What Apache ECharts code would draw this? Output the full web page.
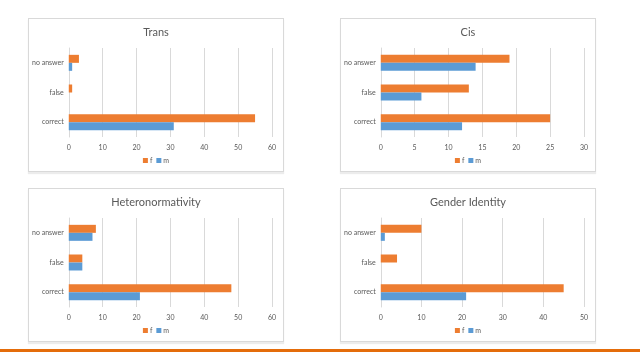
<!DOCTYPE html>
<html>
<head>
<meta charset="utf-8">
<script src="https://cdn.jsdelivr.net/npm/echarts@6/dist/echarts.min.js"></script>
<style>
  html, body { margin: 0; padding: 0; background: #fff; }
  body { width: 640px; height: 352px; position: relative; overflow: hidden; }
  .panel {
    position: absolute;
    width: 254px;
    height: 152px;
    border: 1px solid #d9d9d9;
    box-shadow: 0 2px 1px #ececec;
    background: #fff;
  }
  #bar { position: absolute; left: 0; top: 349px; width: 640px; height: 3px; background: #e46c0a; }
</style>
</head>
<body>
<div class="panel" id="trans" style="left:28px;top:18px"></div>
<div class="panel" id="cis" style="left:340px;top:18px"></div>
<div class="panel" id="hetero" style="left:28px;top:188px"></div>
<div class="panel" id="gender" style="left:340px;top:188px"></div>
<div id="bar"></div>
<script>
// 类别（自下而上）
const categories = ['correct', 'false', 'no answer']

// Trans
const transF = [55, 1, 3]
const transM = [31, 0, 1]
// Cis
const cisF = [25, 13, 19]
const cisM = [12, 6, 14]
// Heteronormativity
const heteroF = [48, 4, 8]
const heteroM = [21, 4, 7]
// Gender Identity
const genderF = [45, 4, 10]
const genderM = [21, 0, 1]

const colorF = '#ed7d31'
const colorM = '#5b9bd5'
const textColor = '#595959'
const font = 'Lato'

function drawChart(id, title, fData, mData, max, interval) {
  let myChart = echarts.init(document.getElementById(id))
  myChart.setOption({
    animation: false,
    textStyle: { fontFamily: font },
    title: {
      text: title,
      left: 'center',
      top: 3,
      textStyle: { fontSize: 11, fontWeight: 'normal', color: textColor, fontFamily: font }
    },
    legend: {
      data: ['f', 'm'],
      bottom: 2,
      left: 'center',
      itemWidth: 5,
      itemHeight: 5,
      itemGap: 4,
      icon: 'rect',
      textStyle: { fontSize: 7, color: textColor, padding: [0, 0, 0, -3] }
    },
    grid: { left: 39, right: 11, top: 29, bottom: 34 },
    xAxis: {
      type: 'value',
      min: 0,
      max: max,
      interval: interval,
      axisLine: { show: false },
      axisTick: { show: false },
      axisLabel: { fontSize: 7, color: textColor, margin: 7 },
      splitLine: { lineStyle: { color: '#d9d9d9' } }
    },
    yAxis: {
      type: 'category',
      data: categories,
      axisLine: { lineStyle: { color: '#d9d9d9' } },
      axisTick: { show: false },
      axisLabel: { fontSize: 7, color: textColor, margin: 5 }
    },
    series: [
      {
        name: 'f',
        type: 'bar',
        barWidth: 8,
        barGap: '0%',
        itemStyle: { color: colorF },
        data: fData
      },
      {
        name: 'm',
        type: 'bar',
        barWidth: 8,
        barGap: '0%',
        itemStyle: { color: colorM },
        data: mData
      }
    ]
  })
}

drawChart('trans', 'Trans', transF, transM, 60, 10)
drawChart('cis', 'Cis', cisF, cisM, 30, 5)
drawChart('hetero', 'Heteronormativity', heteroF, heteroM, 60, 10)
drawChart('gender', 'Gender Identity', genderF, genderM, 50, 10)
</script>
</body>
</html>
